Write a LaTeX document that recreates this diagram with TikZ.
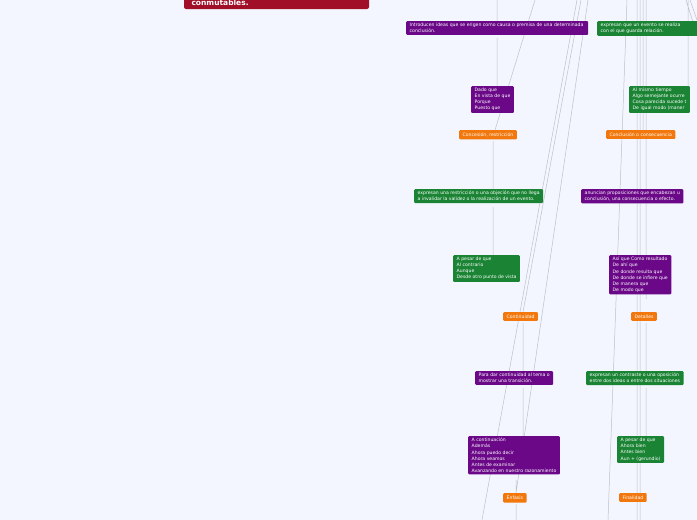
\documentclass[tikz,border=0pt]{standalone}
\usepackage{fontspec}
\setmainfont{DejaVu Sans}
\definecolor{bgc}{RGB}{243,246,254}
\definecolor{purc}{RGB}{106,8,135}
\definecolor{grnc}{RGB}{26,132,52}
\definecolor{orgc}{RGB}{242,120,14}
\definecolor{redc}{RGB}{160,14,40}
\definecolor{lnc}{RGB}{190,192,200}
\begin{document}
\begin{tikzpicture}[x=1pt,y=-1pt,
 box/.style={anchor=north west,text=white,font=\fontsize{4.6}{6.1}\selectfont,align=left,inner xsep=3.5pt,inner ysep=2pt,rounded corners=1pt},
 pur/.style={box,fill=purc},
 grn/.style={box,fill=grnc},
 org/.style={box,fill=orgc,inner ysep=2.5pt},
 ln/.style={draw=lnc,line width=0.5pt}]
\fill[bgc] (0,0) rectangle (697,520);
\useasboundingbox (0,0) rectangle (697,520);
% connectors
\draw[ln] (497,0)--(497,21) (497,38)--(497,86) (493,141)--(493,189) (493,207)--(493,255)
 (523,323)--(523,371) (523,388)--(523,436) (516,480)--(516,493) (516,504)--(516,520)
 (646,323)--(646,371) (646,388)--(646,436) (646,0)--(646,299)
 (637,0)--(637,520) (640,0)--(640,520) (643,0)--(643,130)
 (535,0)--(495,130) (577,0)--(482,520) (581,0)--(523,312) (588,0)--(516,493)
 (627,0)--(608,520) (686,0)--(697,35) (690,0)--(697,20) (688,0)--(688,86);
\fill[redc,rounded corners=2pt] (184,-10) rectangle (369,9);
\node[anchor=west,text=white,font=\bfseries\fontsize{7.5}{8}\selectfont] (r) at (188,3) {conmutables.};
\node[pur,text width=175pt] (a) at (406,21) {Introducen ideas que se erigen como causa o premisa de una determinada conclusión.};
\node[grn,text width=120pt] (b) at (597,21) {expresan que un evento se realiza\\con el que guarda relación.};
\node[pur] (c) at (471,86) {Dado que\\En vista de que\\Porque\\Puesto que};
\node[grn] (d) at (629,86) {Al mismo tiempo\\Algo semejante ocurre\\Cosa parecida sucede t\\De igual modo (maner};
\node[org] (e) at (459,130) {Concesión, restricción};
\node[org] (f) at (606,130) {Conclusión o consecuencia};
\node[grn] (g) at (414,189) {expresan una restricción o una objeción que no llega\\a invalidar la validez o la realización de un evento.};
\node[pur] (h) at (581,189) {anuncian proposiciones que encabezan u\\conclusión, una consecuencia o efecto.};
\node[grn] (i) at (453,255) {A pesar de que\\Al contrario\\Aunque\\Desde otro punto de vista};
\node[pur] (j) at (609,255) {Así que Como resultado\\De ahí que\\De donde resulta que\\De donde se infiere que\\De manera que\\De modo que};
\node[org] (k) at (503,312) {Continuidad};
\node[org] (l) at (631,312) {Detalles};
\node[pur] (m) at (475,371) {Para dar continuidad al tema o\\mostrar una transición.};
\node[grn] (n) at (586,371) {expresan un contraste o una oposición\\entre dos ideas o entre dos situaciones};
\node[pur] (o) at (468,436) {A continuación\\Además\\Ahora puedo decir\\Ahora veamos\\Antes de examinar\\Avanzando  en nuestro razonamiento};
\node[grn] (p) at (617,436) {A pesar de que\\Ahora bien\\Antes bien\\Aun  + (gerundio)};
\node[org] (q) at (503,493) {Énfasis};
\node[org] (s) at (619,493) {Finalidad};
\end{tikzpicture}
\end{document}
